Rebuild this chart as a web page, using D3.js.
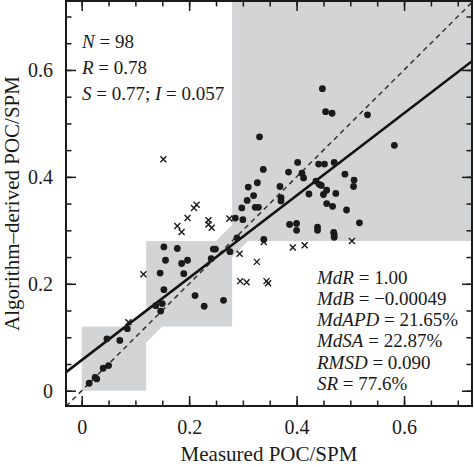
<!DOCTYPE html>
<html lang="en">
<head>
  <meta charset="UTF-8">
  <title>Measured vs Algorithm-derived POC/SPM</title>
  <script src="https://d3js.org/d3.v7.min.js"></script>
  <style>
    body { margin: 0; background: #fff; }
    svg text { font-family: "Liberation Serif", "Times New Roman", serif; fill: #1a1a1a; }
  </style>
</head>
<body>
  <div id="chart"></div>
  <script>
    // filled dots: [measured, derived]
    const dots = [
      [0.014, 0.014], [0.025, 0.025], [0.028, 0.022], [0.040, 0.042], [0.050, 0.047],
      [0.047, 0.097], [0.071, 0.094], [0.085, 0.116], [0.153, 0.269], [0.178, 0.266],
      [0.156, 0.244], [0.186, 0.238], [0.197, 0.244], [0.146, 0.220], [0.190, 0.219],
      [0.153, 0.189], [0.211, 0.178], [0.138, 0.159], [0.150, 0.163], [0.147, 0.149],
      [0.228, 0.158], [0.264, 0.169], [0.241, 0.247], [0.249, 0.265], [0.245, 0.265],
      [0.276, 0.260], [0.331, 0.475], [0.338, 0.414], [0.327, 0.389], [0.310, 0.381],
      [0.320, 0.365], [0.308, 0.356], [0.323, 0.343], [0.329, 0.343], [0.298, 0.342],
      [0.286, 0.323], [0.300, 0.320], [0.339, 0.283], [0.289, 0.286], [0.448, 0.565],
      [0.454, 0.522], [0.466, 0.519], [0.532, 0.516], [0.582, 0.459], [0.402, 0.427],
      [0.441, 0.424], [0.452, 0.424], [0.470, 0.427], [0.385, 0.409], [0.410, 0.407],
      [0.413, 0.398], [0.490, 0.405], [0.507, 0.394], [0.506, 0.382], [0.436, 0.392],
      [0.442, 0.386], [0.446, 0.384], [0.456, 0.375], [0.450, 0.367], [0.473, 0.369],
      [0.423, 0.368], [0.369, 0.382], [0.371, 0.361], [0.371, 0.355], [0.456, 0.350],
      [0.467, 0.345], [0.493, 0.338], [0.387, 0.311], [0.400, 0.313], [0.400, 0.300],
      [0.439, 0.306], [0.439, 0.300], [0.469, 0.296], [0.470, 0.292], [0.470, 0.287],
      [0.517, 0.314]
    ];

    // crosses: [measured, derived]
    const crosses = [
      [0.087, 0.128], [0.115, 0.218], [0.152, 0.433], [0.214, 0.348], [0.209, 0.342],
      [0.197, 0.323], [0.178, 0.308], [0.186, 0.297], [0.236, 0.319], [0.236, 0.311],
      [0.242, 0.305], [0.275, 0.322], [0.339, 0.278], [0.294, 0.256], [0.326, 0.241],
      [0.295, 0.205], [0.307, 0.203], [0.344, 0.205], [0.347, 0.201], [0.393, 0.268],
      [0.415, 0.272], [0.503, 0.280]
    ];

    // class boxes (same class on both axes) and band half-width round 1:1
    const classEdges = [0, 0.12, 0.28, 0.8];
    const bandHalf = 0.03;

    const slope = 0.77, intercept = 0.057;

    const majorTicks = [0, 0.2, 0.4, 0.6];
    const minorTicks = d3.range(0, 0.701, 0.05);

    const statsTop = [
      [["N", true], [" = 98", false]],
      [["R", true], [" = 0.78", false]],
      [["S", true], [" = 0.77; ", false], ["I", true], [" = 0.057", false]]
    ];
    const statsBottom = [
      [["MdR", true], [" = 1.00", false]],
      [["MdB", true], [" = \u22120.00049", false]],
      [["MdAPD", true], [" = 21.65%", false]],
      [["MdSA", true], [" = 22.87%", false]],
      [["RMSD", true], [" = 0.090", false]],
      [["SR", true], [" = 77.6%", false]]
    ];

    const W = 474, H = 467;
    const m = { left: 66, right: 472, top: 1, bottom: 406 };

    const x = d3.scaleLinear().domain([-0.0292, 0.7265]).range([m.left, m.right]);
    const y = d3.scaleLinear().domain([-0.0286, 0.729]).range([m.bottom, m.top]);

    const svg = d3.select("#chart").append("svg")
      .attr("width", W)
      .attr("height", H);

    svg.append("clipPath").attr("id", "plot-clip")
      .append("rect")
      .attr("x", m.left).attr("y", m.top)
      .attr("width", m.right - m.left).attr("height", m.bottom - m.top);

    const plot = svg.append("g").attr("clip-path", "url(#plot-clip)");

    // gray agreement region
    const gray = "#d3d4d6";
    for (let i = 0; i < classEdges.length - 1; i++) {
      const a = classEdges[i], b = classEdges[i + 1];
      plot.append("rect")
        .attr("x", x(a)).attr("y", y(b))
        .attr("width", x(b) - x(a)).attr("height", y(a) - y(b))
        .attr("fill", gray);
    }
    const b0 = 0.06, b1 = 0.8;
    const band = [[b0, b0 - bandHalf], [b1, b1 - bandHalf], [b1, b1 + bandHalf], [b0, b0 + bandHalf]];
    plot.append("path")
      .attr("d", d3.line().x(d => x(d[0])).y(d => y(d[1]))(band) + "Z")
      .attr("fill", gray);

    // 1:1 line
    const xd = x.domain();
    plot.append("line")
      .attr("x1", x(xd[0])).attr("y1", y(xd[0]))
      .attr("x2", x(xd[1])).attr("y2", y(xd[1]))
      .attr("stroke", "#333")
      .attr("stroke-width", 1.5)
      .attr("stroke-dasharray", "5,4");

    // regression line
    plot.append("line")
      .attr("x1", x(xd[0])).attr("y1", y(intercept + slope * xd[0]))
      .attr("x2", x(xd[1])).attr("y2", y(intercept + slope * xd[1]))
      .attr("stroke", "#111")
      .attr("stroke-width", 2.6);

    // points
    plot.selectAll(".dot")
      .data(dots)
      .enter().append("circle")
      .attr("class", "dot")
      .attr("cx", d => x(d[0]))
      .attr("cy", d => y(d[1]))
      .attr("r", 3.4)
      .attr("fill", "#1a1a1a");

    const s = 3;
    plot.selectAll(".cross")
      .data(crosses)
      .enter().append("path")
      .attr("class", "cross")
      .attr("d", d => {
        const cx = x(d[0]), cy = y(d[1]);
        return `M${cx - s},${cy - s}L${cx + s},${cy + s}M${cx - s},${cy + s}L${cx + s},${cy - s}`;
      })
      .attr("stroke", "#1a1a1a")
      .attr("stroke-width", 1.4)
      .attr("fill", "none");

    // axes, ticks pointing inward on all four sides
    const fmt = d => d === 0 ? "0" : d.toFixed(1);

    function addAxis(axis, transform, values, size, labels) {
      const g = svg.append("g")
        .attr("transform", transform)
        .call(axis.tickValues(values).tickSize(-size).tickSizeOuter(0)
          .tickFormat(labels ? fmt : ""));
      g.select(".domain").remove();
      g.selectAll("line").attr("stroke", "#1a1a1a").attr("stroke-width", 1.5);
      g.selectAll("text")
        .attr("font-size", 20)
        .attr("font-family", "Liberation Serif")
        .attr("fill", "#1a1a1a");
      return g;
    }

    addAxis(d3.axisBottom(x).tickPadding(14), `translate(0,${m.bottom})`, minorTicks, 5.5, false);
    addAxis(d3.axisBottom(x).tickPadding(14), `translate(0,${m.bottom})`, majorTicks, 10, true);
    addAxis(d3.axisTop(x), `translate(0,${m.top})`, minorTicks, 5.5, false);
    addAxis(d3.axisTop(x), `translate(0,${m.top})`, majorTicks, 10, false);
    addAxis(d3.axisLeft(y).tickPadding(13), `translate(${m.left},0)`, minorTicks, 5.5, false);
    addAxis(d3.axisLeft(y).tickPadding(13), `translate(${m.left},0)`, majorTicks, 10, true);
    addAxis(d3.axisRight(y), `translate(${m.right},0)`, minorTicks, 5.5, false);
    addAxis(d3.axisRight(y), `translate(${m.right},0)`, majorTicks, 10, false);

    // frame
    svg.append("rect")
      .attr("x", m.left).attr("y", m.top)
      .attr("width", m.right - m.left).attr("height", m.bottom - m.top)
      .attr("fill", "none")
      .attr("stroke", "#1a1a1a")
      .attr("stroke-width", 2);

    // axis titles
    svg.append("text")
      .attr("x", (m.left + m.right) / 2)
      .attr("y", 461)
      .attr("text-anchor", "middle")
      .attr("font-size", 21)
      .text("Measured POC/SPM");

    svg.append("text")
      .attr("transform", `translate(19,${(m.top + m.bottom) / 2}) rotate(-90)`)
      .attr("text-anchor", "middle")
      .attr("font-size", 21)
      .text("Algorithm\u2013derived POC/SPM");

    // statistics
    function addStats(lines, x0, y0, dy) {
      lines.forEach((parts, i) => {
        const t = svg.append("text")
          .attr("x", x0)
          .attr("y", y0 + i * dy)
          .attr("font-size", 19)
          .attr("xml:space", "preserve")
          .style("white-space", "pre");
        parts.forEach(p => {
          t.append("tspan")
            .attr("font-style", p[1] ? "italic" : "normal")
            .text(p[0]);
        });
      });
    }
    addStats(statsTop, 82, 48, 26);
    addStats(statsBottom, 317, 283.5, 21.3);
  </script>
</body>
</html>
